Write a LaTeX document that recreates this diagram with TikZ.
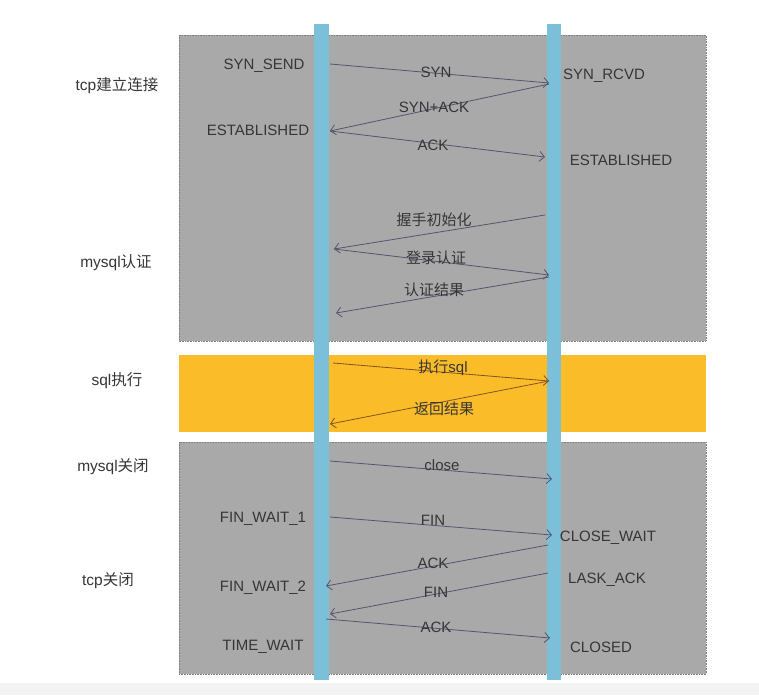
\documentclass[tikz,border=0pt]{standalone}
\usepackage{fontspec}
\setmainfont{Liberation Sans}
\newfontfamily\cjk{Noto Sans CJK SC}
\usetikzlibrary{arrows.meta}
\definecolor{boxgray}{HTML}{A9A9A9}
\definecolor{boxedge}{HTML}{7E7E86}
\definecolor{orangebg}{HTML}{FBBC2A}
\definecolor{barblue}{HTML}{7BBFD8}
\definecolor{msggray}{HTML}{56546F}
\definecolor{msgbrown}{HTML}{855520}
\definecolor{txt}{HTML}{363636}
\definecolor{bandgray}{HTML}{F3F3F3}
\tikzset{
  phase/.style={draw=boxedge, densely dotted, line width=0.6pt},
  lifebar/.style={fill=barblue, draw=none},
  state/.style={font=\fontsize{15}{17}\selectfont, text=txt, inner sep=0pt},
  stage/.style={font=\fontsize{15.5}{18}\selectfont, text=txt, inner sep=0pt},
  msg/.style={draw=msggray, line width=0.8pt, -{Straight Barb[length=5pt,width=10pt]}},
  msgo/.style={draw=msgbrown, line width=0.8pt, -{Straight Barb[length=5pt,width=10pt]}},
  lbl/.style={font=\fontsize{15}{17}\selectfont, text=txt, inner sep=0pt},
}
\begin{document}
\begin{tikzpicture}[x=1pt,y=-1pt]
\useasboundingbox (0,0) rectangle (759,695);
\fill[white] (0,0) rectangle (759,695);
\fill[bandgray] (0,683) rectangle (759,695);
% phase boxes
\filldraw[phase, fill=boxgray] (179,35) rectangle (706,341);
\fill[orangebg] (179,355) rectangle (706,432);
\filldraw[phase, fill=boxgray] (179,442) rectangle (706,674);
% lifelines
\fill[lifebar] (314,24) rectangle (329,680);
\fill[lifebar] (547,24) rectangle (561,680);
% stage labels
\node[stage] (s1) at (117,86) {tcp{\cjk 建立连接}};
\node[stage] (s2) at (116,263) {mysql{\cjk 认证}};
\node[stage] (s3) at (117,381) {sql{\cjk 执行}};
\node[stage] (s4) at (113,467) {mysql{\cjk 关闭}};
\node[stage] (s5) at (108,581) {tcp{\cjk 关闭}};
% states
\node[state] (a1) at (264,66) {SYN\_SEND};
\node[state] (a2) at (258,130) {ESTABLISHED};
\node[state] (a3) at (263,519) {FIN\_WAIT\_1};
\node[state] (a4) at (263,588) {FIN\_WAIT\_2};
\node[state] (a5) at (263,647) {TIME\_WAIT};
\node[state] (b1) at (604,76) {SYN\_RCVD};
\node[state] (b2) at (621,160) {ESTABLISHED};
\node[state] (b3) at (608,538) {CLOSE\_WAIT};
\node[state] (b4) at (607,580) {LASK\_ACK};
\node[state] (b5) at (601,647) {CLOSED};
% message end points
\coordinate (p1) at (330,64);  \coordinate (q1) at (549,83);
\coordinate (p2) at (549,84);  \coordinate (q2) at (330,131);
\coordinate (p3) at (330,131); \coordinate (q3) at (545,157);
\coordinate (p4) at (545,215); \coordinate (q4) at (334,249);
\coordinate (p5) at (334,249); \coordinate (q5) at (549,275);
\coordinate (p6) at (549,277); \coordinate (q6) at (336,313);
\coordinate (p7) at (333,363); \coordinate (q7) at (549,381);
\coordinate (p8) at (549,381); \coordinate (q8) at (330,424);
\coordinate (p9) at (330,461); \coordinate (q9) at (552,479);
\coordinate (p10) at (330,517); \coordinate (q10) at (552,535);
\coordinate (p11) at (548,545); \coordinate (q11) at (326,586);
\coordinate (p12) at (548,573); \coordinate (q12) at (330,614);
\coordinate (p13) at (326,619); \coordinate (q13) at (550,638);
% messages
\draw[msg] (p1) -- (q1);
\draw[msg] (p2) -- (q2);
\draw[msg] (p3) -- (q3);
\draw[msg] (p4) -- (q4);
\draw[msg] (p5) -- (q5);
\draw[msg] (p6) -- (q6);
\draw[msgo] (p7) -- (q7);
\draw[msgo] (p8) -- (q8);
\draw[msg] (p9) -- (q9);
\draw[msg] (p10) -- (q10);
\draw[msg] (p11) -- (q11);
\draw[msg] (p12) -- (q12);
\draw[msg] (p13) -- (q13);
% message labels
\node[lbl] (m1) at (436,72) {SYN};
\node[lbl] (m2) at (434,107) {SYN+ACK};
\node[lbl] (m3) at (433,145) {ACK};
\node[lbl] (m4) at (434,220) {\cjk 握手初始化};
\node[lbl] (m5) at (436,258) {\cjk 登录认证};
\node[lbl] (m6) at (434,290) {\cjk 认证结果};
\node[lbl] (m7) at (443,368) {{\cjk 执行}sql};
\node[lbl] (m8) at (444,409) {\cjk 返回结果};
\node[lbl] (m9) at (442,465) {close};
\node[lbl] (m10) at (433,520) {FIN};
\node[lbl] (m11) at (433,563) {ACK};
\node[lbl] (m12) at (436,592) {FIN};
\node[lbl] (m13) at (436,627) {ACK};
\end{tikzpicture}
\end{document}
